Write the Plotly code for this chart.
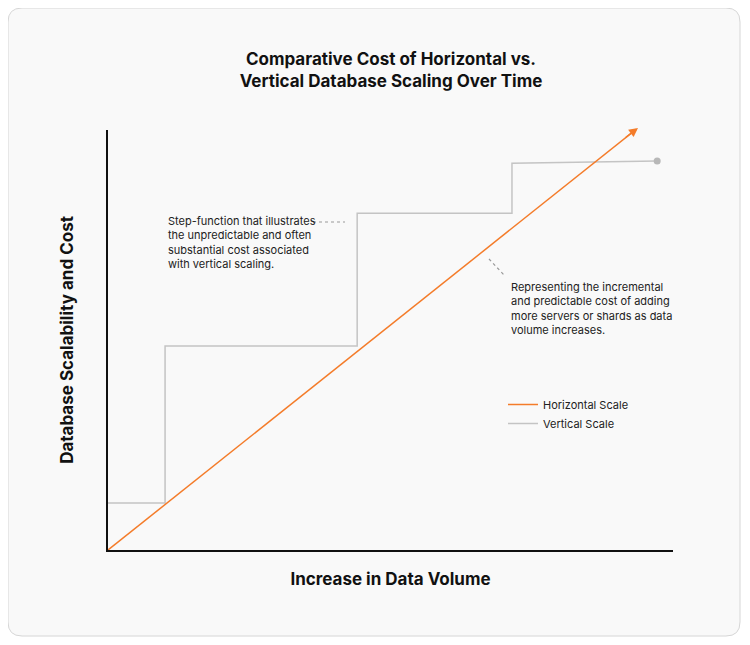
import plotly.graph_objects as go

# data (arbitrary units, 0-100)
horiz_x = [0, 93.8]
horiz_y = [0, 100.5]
vert_x = [0, 10.1, 10.1, 44.1, 44.1, 71.5, 71.5, 97.2]
vert_y = [11.2, 11.2, 48.6, 48.6, 80.2, 80.2, 92.1, 92.6]

W, H = 750, 645
OFF = 8  # page body margin offset
L, R, T, B = 108 - OFF, 77 + OFF, 130 - OFF, 95 + OFF
pw, ph = W - L - R, H - T - B

def px(x):
    return (x - OFF - L) / pw

def py(y):
    return (H - B - (y - OFF)) / ph

fig = go.Figure()

# card background with rounded corners
x0, x1, y0, y1, r = 8, 740, 8, 636, 14
path = (f"M {px(x0 + r)},{py(y0)} L {px(x1 - r)},{py(y0)} Q {px(x1)},{py(y0)} {px(x1)},{py(y0 + r)} "
        f"L {px(x1)},{py(y1 - r)} Q {px(x1)},{py(y1)} {px(x1 - r)},{py(y1)} "
        f"L {px(x0 + r)},{py(y1)} Q {px(x0)},{py(y1)} {px(x0)},{py(y1 - r)} "
        f"L {px(x0)},{py(y0 + r)} Q {px(x0)},{py(y0)} {px(x0 + r)},{py(y0)} Z")
fig.add_shape(type="path", path=path, xref="paper", yref="paper",
              fillcolor="#f9f9f9", line=dict(color="#d6d6d6", width=1), layer="below")

fig.add_trace(go.Scatter(x=vert_x, y=vert_y, mode="lines", name="Vertical Scale",
                         line=dict(color="#c4c4c4", width=1.5)))
fig.add_trace(go.Scatter(x=[vert_x[-1]], y=[vert_y[-1]], mode="markers", showlegend=False,
                         marker=dict(color="#b8b8b8", size=7)))
fig.add_trace(go.Scatter(x=horiz_x, y=horiz_y, mode="lines", name="Horizontal Scale",
                         line=dict(color="#f47c2a", width=1.5)))
fig.add_annotation(x=horiz_x[1], y=horiz_y[1], ax=horiz_x[1] - 2.4, ay=horiz_y[1] - 2.5,
                   xref="x", yref="y", axref="x", ayref="y", text="", showarrow=True,
                   arrowhead=2, arrowsize=1.2, arrowwidth=1.5, arrowcolor="#f47c2a")

# dotted connectors
fig.add_shape(type="line", xref="paper", yref="paper", x0=px(313), y0=py(222), x1=px(345), y1=py(222),
              line=dict(color="#999", width=1.2, dash="dot"))
fig.add_shape(type="line", xref="paper", yref="paper", x0=px(489), y0=py(259), x1=px(505), y1=py(276),
              line=dict(color="#999", width=1.2, dash="dot"))

fig.add_annotation(xref="paper", yref="paper", x=px(166), y=py(212), xanchor="left", yanchor="top",
                   showarrow=False, align="left", font=dict(size=11, color="#222"),
                   text="Step-function that illustrates<br>the unpredictable and often<br>substantial cost associated<br>with vertical scaling.")
fig.add_annotation(xref="paper", yref="paper", x=px(509), y=py(278), xanchor="left", yanchor="top",
                   showarrow=False, align="left", font=dict(size=11, color="#222"),
                   text="Representing the incremental<br>and predictable cost of adding<br>more servers or shards as data<br>volume increases.")

fig.update_layout(
    width=W, height=H, margin=dict(l=L, r=R, t=T, b=B),
    paper_bgcolor="white", plot_bgcolor="rgba(0,0,0,0)",
    font=dict(family="Inter", color="#111"),
    title=dict(text="<b>Comparative Cost of Horizontal vs.<br>Vertical Database Scaling Over Time</b>",
               x=px(391), xref="paper", xanchor="center", y=1 - (65 - OFF) / H, yanchor="middle",
               font=dict(size=17, color="#111")),
    legend=dict(x=px(503), y=py(390), xanchor="left", yanchor="top", traceorder="reversed",
                bgcolor="rgba(0,0,0,0)", font=dict(size=11, color="#222"), itemwidth=30,
                tracegroupgap=4),
    showlegend=True,
)
fig.update_xaxes(range=[0, 100], showgrid=False, zeroline=False, showticklabels=False,
                 showline=True, linecolor="#111", linewidth=1.5, ticks="",
                 title=dict(text="<b>Increase in Data Volume</b>", font=dict(size=17), standoff=22))
fig.update_yaxes(range=[0, 100], showgrid=False, zeroline=False, showticklabels=False,
                 showline=True, linecolor="#111", linewidth=1.5, ticks="",
                 title=dict(text="<b>Database Scalability and Cost</b>", font=dict(size=17), standoff=28))

fig.write_html("out.html")
